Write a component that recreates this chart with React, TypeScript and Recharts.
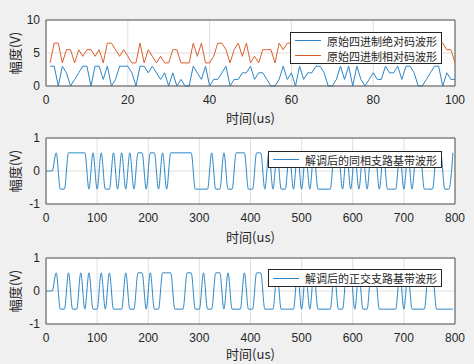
import React from "react";
import {
  LineChart,
  Line,
  XAxis,
  YAxis,
  CartesianGrid,
  Legend,
  ReferenceLine,
} from "recharts";

// original quaternary codes, one value per us (t = 1..100)
const absCode = [
  3, 3, 0, 3, 2, 0, 1, 2, 3, 3, 0, 3, 3, 1, 3, 0, 1, 3, 3, 3,
  2, 0, 3, 3, 2, 3, 2, 1, 2, 0, 2, 0, 1, 0, 0, 3, 2, 1, 3, 0,
  1, 1, 2, 3, 0, 1, 1, 2, 2, 3, 1, 2, 2, 1, 0, 0, 1, 3, 1, 2,
  0, 3, 1, 2, 2, 3, 3, 2, 0, 0, 1, 3, 1, 3, 0, 3, 1, 0, 1, 2,
  1, 1, 3, 2, 2, 3, 1, 3, 3, 2, 0, 0, 1, 2, 3, 3, 0, 2, 1, 1,
];
// relative code as drawn (shifted up by 3.5 V)
const relWave = [
  3.5, 6.5, 6.5, 3.5, 5.5, 5.5, 3.5, 5.5, 4.5, 5.5, 5.5, 4.5, 5.5, 3.5, 6.5, 6.5, 5.5, 4.5, 5.5, 4.5,
  3.5, 3.5, 6.5, 3.5, 5.5, 4.5, 3.5, 4.5, 3.5, 3.5, 5.5, 5.5, 3.5, 3.5, 3.5, 6.5, 4.5, 6.5, 3.5, 3.5,
  4.5, 6.5, 6.5, 5.5, 3.5, 5.5, 6.5, 4.5, 6.5, 3.5, 4.5, 3.5, 5.5, 5.5, 5.5, 3.5, 6.5, 5.5, 6.5, 6.5,
  5.5, 3.5, 4.5, 6.5, 5.5, 3.5, 6.5, 4.5, 4.5, 3.5, 4.5, 6.5, 5.5, 3.5, 3.5, 6.5, 5.5, 5.5, 4.5, 6.5,
  5.5, 4.5, 3.5, 5.5, 3.5, 6.5, 5.5, 4.5, 3.5, 5.5, 5.5, 5.5, 4.5, 6.5, 5.5, 6.5, 6.5, 5.5, 5.5, 3.5,
];

// demodulated baseband, one level per symbol (8 us), after filter delay
const H = 0.55;
const L = -0.55;
const iBranch = [
  H, L, L, H, H, H, H, H, L, H, L, H, L, L, H, L, H, L, H, L,
  H, H, L, H, H, L, H, L, H, H, H, H, H, H, L, L, L, L, H, L,
  L, H, L, L, H, H, H, L, L, H, H, L, H, L, H, L, L, H, L, H,
  L, H, L, H, L, L, L, L, H, H, L, H, L, H, L, H, L, H, H, L,
  H, L, L, L, H, L, H, L, H, H, L, L, L, H, H, L, L, H,
];
const qBranch = [
  H, L, L, H, L, L, H, L, H, L, L, H, L, H, L, L, L, H, L, L,
  H, H, L, H, L, L, H, H, H, L, L, L, H, H, L, L, H, L, L, H,
  H, L, H, L, L, L, H, L, L, H, H, L, L, L, H, L, L, L, L, H,
  L, H, L, H, L, L, L, L, H, L, L, H, H, L, H, L, L, H, H, L,
  L, L, L, L, H, L, H, L, L, L, L, H, H, L, L, L, L, L,
];
const leadIn = [0, 0, 0];
const leadTimes = [0, 6, 12];

const topTicksX = [0, 20, 40, 60, 80, 100];
const topTicksY = [0, 5, 10];
const bbTicksX = [0, 100, 200, 300, 400, 500, 600, 700, 800];
const bbTicksY = [-1, 0, 1];

const topNames = ["原始四进制绝对码波形", "原始四进制相对码波形"];

const topData = absCode.map((v, i) => ({ t: i + 1, abs: v, rel: relWave[i] }));

const toSeries = (levels: number[]) => [
  ...leadIn.map((v, i) => ({ t: leadTimes[i], v })),
  ...levels.map((v, k) => ({ t: 20 + 8 * k, v })),
];
const iData = toSeries(iBranch);
const qData = toSeries(qBranch);

const BLUE = "#2a86c8";
const ORANGE = "#dc5f2c";
const AXIS = "#555555";
const GRID = "#dedede";
const TEXT = "#262626";
const NUM_FONT = "'Liberation Sans', Arial, sans-serif";
const CJK_FONT = "'Noto Sans CJK SC', sans-serif";

const tickStyle = { fontSize: 12, fontFamily: NUM_FONT, fill: TEXT };

const BoxLegend = ({ payload }: any) => {
  const items = [...(payload || [])].sort((a: any, b: any) => {
    const ia = topNames.indexOf(a.value);
    const ib = topNames.indexOf(b.value);
    return ia - ib;
  });
  return (
    <div
      style={{
        background: "#ffffff",
        border: `1px solid ${TEXT}`,
        boxSizing: "border-box",
        width: "100%",
        height: "100%",
        padding: "0 0 0 4px",
        fontFamily: CJK_FONT,
        fontSize: 11,
        color: TEXT,
        display: "flex",
        flexDirection: "column",
        justifyContent: "center",
      }}
    >
      {items.map((e: any) => (
        <div key={e.value} style={{ display: "flex", alignItems: "center", height: 15 }}>
          <svg width={26} height={3} style={{ marginRight: 6 }}>
            <line x1={0} y1={1.5} x2={26} y2={1.5} stroke={e.color} strokeWidth={1} />
          </svg>
          <span style={{ whiteSpace: "nowrap" }}>{e.value}</span>
        </div>
      ))}
    </div>
  );
};

const xLabel = {
  value: "时间(us)",
  position: "insideBottom" as const,
  offset: 5,
  style: { fontSize: 13, fontFamily: CJK_FONT, fill: TEXT },
};
const yLabel = {
  value: "幅度(V)",
  angle: -90,
  position: "insideLeft" as const,
  offset: 15,
  style: { fontSize: 13, fontFamily: CJK_FONT, fill: TEXT, textAnchor: "middle" as const },
};

type PanelProps = {
  top: number;
  height: number;
  axisHeight: number;
  marginTop: number;
  data: any[];
  xMax: number;
  ticksX: number[];
  yDomain: [number, number];
  ticksY: number[];
  legendBox: { left: number; top: number; width: number; height: number };
  children: React.ReactNode;
};

function Panel(p: PanelProps) {
  return (
    <div style={{ position: "absolute", left: 0, top: p.top }}>
      <LineChart
        width={474}
        height={p.height}
        data={p.data}
        margin={{ top: p.marginTop, right: 19, bottom: 0, left: 0 }}
      >
        <CartesianGrid stroke={GRID} fill="#ffffff" />
        <XAxis
          dataKey="t"
          type="number"
          domain={[0, p.xMax]}
          ticks={p.ticksX}
          allowDataOverflow
          height={p.axisHeight}
          tickSize={0}
          tickMargin={9}
          tick={tickStyle}
          stroke={AXIS}
          label={xLabel}
        />
        <YAxis
          type="number"
          domain={p.yDomain}
          ticks={p.ticksY}
          width={46}
          tickSize={0}
          tickMargin={6}
          tick={tickStyle}
          stroke={AXIS}
          label={yLabel}
        />
        <ReferenceLine y={p.yDomain[1]} stroke={AXIS} />
        <ReferenceLine x={p.xMax} stroke={AXIS} />
        {p.children}
        <Legend
          layout="vertical"
          align="center"
          verticalAlign="middle"
          content={<BoxLegend />}
          wrapperStyle={{ ...p.legendBox }}
        />
      </LineChart>
    </div>
  );
}

export default function App() {
  return (
    <div
      style={{
        position: "absolute",
        left: 0,
        top: 0,
        width: 474,
        height: 364,
        background: "#f0f0f0",
        overflow: "hidden",
      }}
    >
      <Panel
        top={0}
        height={128}
        axisHeight={42}
        marginTop={20}
        data={topData}
        xMax={100}
        ticksX={topTicksX}
        yDomain={[0, 10]}
        ticksY={topTicksY}
        legendBox={{ left: 290, top: 32, width: 152, height: 32 }}
      >
        <Line
          dataKey="abs"
          name={topNames[0]}
          type="linear"
          stroke={BLUE}
          strokeWidth={1}
          dot={false}
          isAnimationActive={false}
        />
        <Line
          dataKey="rel"
          name={topNames[1]}
          type="linear"
          stroke={ORANGE}
          strokeWidth={1}
          dot={false}
          isAnimationActive={false}
        />
      </Panel>
      <Panel
        top={120}
        height={127}
        axisHeight={43}
        marginTop={18}
        data={iData}
        xMax={800}
        ticksX={bbTicksX}
        yDomain={[-1, 1]}
        ticksY={bbTicksY}
        legendBox={{ left: 268, top: 31, width: 174, height: 17 }}
      >
        <Line
          dataKey="v"
          name="解调后的同相支路基带波形"
          type="monotone"
          stroke={BLUE}
          strokeWidth={1}
          dot={false}
          isAnimationActive={false}
        />
      </Panel>
      <Panel
        top={240}
        height={124}
        axisHeight={40}
        marginTop={18}
        data={qData}
        xMax={800}
        ticksX={bbTicksX}
        yDomain={[-1, 1]}
        ticksY={bbTicksY}
        legendBox={{ left: 268, top: 29, width: 174, height: 18 }}
      >
        <Line
          dataKey="v"
          name="解调后的正交支路基带波形"
          type="monotone"
          stroke={BLUE}
          strokeWidth={1}
          dot={false}
          isAnimationActive={false}
        />
      </Panel>
    </div>
  );
}
